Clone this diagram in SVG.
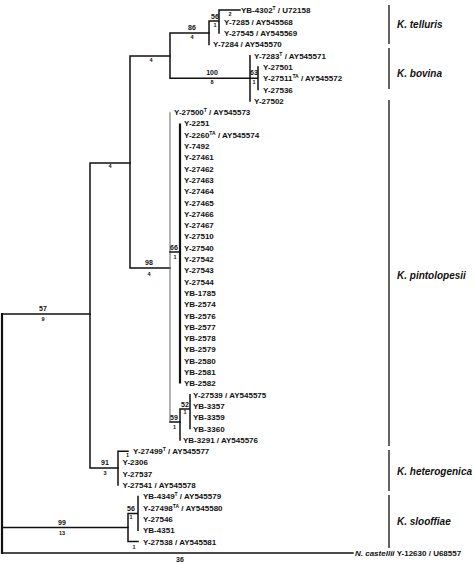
<svg xmlns="http://www.w3.org/2000/svg" width="474" height="564" viewBox="0 0 474 564">
<style>
.br{stroke:#111;stroke-width:1.5;fill:none;stroke-linecap:square}
.thick{stroke:#111;stroke-width:2.2;fill:none}
.thin{stroke:#666;stroke-width:1;fill:none}
.bar{stroke:#111;stroke-width:1.3;fill:none}
.lf{font-family:"Liberation Sans",Arial,sans-serif;font-weight:bold;font-size:8px;fill:#111}
.sup{font-size:5px}
.bs{font-family:"Liberation Sans",Arial,sans-serif;font-weight:bold;font-size:7px;fill:#111;text-anchor:middle}
.bl{font-family:"Liberation Sans",Arial,sans-serif;font-weight:bold;font-size:5.5px;fill:#111;text-anchor:middle}
.cl{font-family:"Liberation Sans",Arial,sans-serif;font-weight:bold;font-style:italic;font-size:10px;fill:#111}
</style>
<rect width="474" height="564" fill="#fff"/>
<g id="connectors">
<line class="thick" x1="2" y1="313" x2="2" y2="554"/>
<path class="br" d="M2,314H90 M2,527.5H128 M2,553H353"/>
<path class="br" d="M90,163V468 M90,163H130 M90,468H118"/>
<path class="br" d="M130,56V268 M130,56H170 M130,268H170"/>
<path class="br" d="M170,33V78.3 M170,33H209 M170,78.3H250"/>
<path class="br" d="M209,21V44.4 M209,21H219 M219,10V33.1 M219,10H240"/>
<path class="br" d="M250,55.7V100.9 M250,78.3H258 M258,67V89.6"/>
<line class="thin" x1="170" y1="112.2" x2="170" y2="422"/>
<path class="br" d="M170,252H180 M170,422H180"/>
<line class="thick" x1="180" y1="123.5" x2="180" y2="383.4"/>
<path class="br" d="M180,409V439.9 M180,409H190 M190,394.7V428.6"/>
<path class="br" d="M118,451.2V485.1 M118,451.2H128"/>
<path class="br" d="M128,513.5V541.6 M128,513.5H138 M138,496.4V530.3 M128,541.6H138"/>
<path class="bar" d="M389,5V44 M389,48V89 M389,100V446 M389,450V491 M389,495V548"/>
</g>
<g id="support">
<text class="bs" x="43" y="311">57</text><text class="bl" x="43" y="321">9</text>
<text class="bl" x="110" y="168">4</text>
<text class="bl" x="151" y="62">4</text>
<text class="bs" x="192" y="30">86</text><text class="bl" x="192" y="39">4</text>
<text class="bs" x="215" y="19">56</text><text class="bl" x="215" y="27">1</text>
<text class="bl" x="230" y="16">2</text>
<text class="bs" x="212" y="75">100</text><text class="bl" x="212" y="84">8</text>
<text class="bs" x="254" y="75">63</text><text class="bl" x="254" y="84">1</text>
<text class="bs" x="149" y="265">98</text><text class="bl" x="149" y="276">4</text>
<text class="bs" x="174" y="250">66</text><text class="bl" x="175" y="259">1</text>
<text class="bs" x="174" y="420">59</text><text class="bl" x="174.5" y="429">1</text>
<text class="bs" x="185" y="407">52</text><text class="bl" x="185" y="414">1</text>
<text class="bs" x="105" y="465">91</text><text class="bl" x="105" y="475">3</text>
<text class="bl" x="127.5" y="457">1</text>
<text class="bs" x="62" y="525">99</text><text class="bl" x="62" y="535">13</text>
<text class="bs" x="131" y="511">56</text><text class="bl" x="131" y="519">1</text>
<text class="bl" x="134" y="549">1</text>
<text class="bs" x="180" y="562">36</text>
</g>
<g id="leaves">
<g id="n-YB-4302"><text class="lf" x="241" y="13.4">YB-4302<tspan class="sup" dy="-3">T</tspan><tspan dy="3"> / U72158</tspan></text></g>
<g id="n-Y-7285"><text class="lf" x="224" y="24.7">Y-7285 / AY545568</text></g>
<g id="n-Y-27545"><text class="lf" x="224" y="36">Y-27545 / AY545569</text></g>
<g id="n-Y-7284"><text class="lf" x="213" y="47.3">Y-7284 / AY545570</text></g>
<g id="n-Y-7283"><text class="lf" x="254" y="58.6">Y-7283<tspan class="sup" dy="-3">T</tspan><tspan dy="3"> / AY545571</tspan></text></g>
<g id="n-Y-27501"><text class="lf" x="263" y="69.9">Y-27501</text></g>
<g id="n-Y-27511"><text class="lf" x="263" y="81.2">Y-27511<tspan class="sup" dy="-3">TA</tspan><tspan dy="3"> / AY545572</tspan></text></g>
<g id="n-Y-27536"><text class="lf" x="263" y="92.5">Y-27536</text></g>
<g id="n-Y-27502"><text class="lf" x="254" y="103.8">Y-27502</text></g>
<g id="n-Y-27500"><text class="lf" x="174" y="115.1">Y-27500<tspan class="sup" dy="-3">T</tspan><tspan dy="3"> / AY545573</tspan></text></g>
<g id="n-Y-2251"><text class="lf" x="184" y="126.4">Y-2251</text></g>
<g id="n-Y-2260"><text class="lf" x="184" y="137.7">Y-2260<tspan class="sup" dy="-3">TA</tspan><tspan dy="3"> / AY545574</tspan></text></g>
<g id="n-Y-7492"><text class="lf" x="184" y="149">Y-7492</text></g>
<g id="n-Y-27461"><text class="lf" x="184" y="160.3">Y-27461</text></g>
<g id="n-Y-27462"><text class="lf" x="184" y="171.6">Y-27462</text></g>
<g id="n-Y-27463"><text class="lf" x="184" y="182.9">Y-27463</text></g>
<g id="n-Y-27464"><text class="lf" x="184" y="194.2">Y-27464</text></g>
<g id="n-Y-27465"><text class="lf" x="184" y="205.5">Y-27465</text></g>
<g id="n-Y-27466"><text class="lf" x="184" y="216.8">Y-27466</text></g>
<g id="n-Y-27467"><text class="lf" x="184" y="228.1">Y-27467</text></g>
<g id="n-Y-27510"><text class="lf" x="184" y="239.4">Y-27510</text></g>
<g id="n-Y-27540"><text class="lf" x="184" y="250.7">Y-27540</text></g>
<g id="n-Y-27542"><text class="lf" x="184" y="262">Y-27542</text></g>
<g id="n-Y-27543"><text class="lf" x="184" y="273.3">Y-27543</text></g>
<g id="n-Y-27544"><text class="lf" x="184" y="284.6">Y-27544</text></g>
<g id="n-YB-1785"><text class="lf" x="184" y="295.9">YB-1785</text></g>
<g id="n-YB-2574"><text class="lf" x="184" y="307.2">YB-2574</text></g>
<g id="n-YB-2576"><text class="lf" x="184" y="318.5">YB-2576</text></g>
<g id="n-YB-2577"><text class="lf" x="184" y="329.8">YB-2577</text></g>
<g id="n-YB-2578"><text class="lf" x="184" y="341.1">YB-2578</text></g>
<g id="n-YB-2579"><text class="lf" x="184" y="352.4">YB-2579</text></g>
<g id="n-YB-2580"><text class="lf" x="184" y="363.7">YB-2580</text></g>
<g id="n-YB-2581"><text class="lf" x="184" y="375">YB-2581</text></g>
<g id="n-YB-2582"><text class="lf" x="184" y="386.3">YB-2582</text></g>
<g id="n-Y-27539"><text class="lf" x="193" y="397.6">Y-27539 / AY545575</text></g>
<g id="n-YB-3357"><text class="lf" x="193" y="408.9">YB-3357</text></g>
<g id="n-YB-3359"><text class="lf" x="193" y="420.2">YB-3359</text></g>
<g id="n-YB-3360"><text class="lf" x="193" y="431.5">YB-3360</text></g>
<g id="n-YB-3291"><text class="lf" x="183" y="442.8">YB-3291 / AY545576</text></g>
<g id="n-Y-27499"><text class="lf" x="133" y="454.1">Y-27499<tspan class="sup" dy="-3">T</tspan><tspan dy="3"> / AY545577</tspan></text></g>
<g id="n-Y-2306"><text class="lf" x="122.5" y="465.4">Y-2306</text></g>
<g id="n-Y-27537"><text class="lf" x="122.5" y="476.7">Y-27537</text></g>
<g id="n-Y-27541"><text class="lf" x="122.5" y="488">Y-27541 / AY545578</text></g>
<g id="n-YB-4349"><text class="lf" x="143" y="499.3">YB-4349<tspan class="sup" dy="-3">T</tspan><tspan dy="3"> / AY545579</tspan></text></g>
<g id="n-Y-27498"><text class="lf" x="143" y="510.6">Y-27498<tspan class="sup" dy="-3">TA</tspan><tspan dy="3"> / AY545580</tspan></text></g>
<g id="n-Y-27546"><text class="lf" x="143" y="521.9">Y-27546</text></g>
<g id="n-YB-4351"><text class="lf" x="143" y="533.2">YB-4351</text></g>
<g id="n-Y-27538"><text class="lf" x="143" y="544.5">Y-27538 / AY545581</text></g>
<g id="n-castellii"><text class="lf" x="355" y="555.8"><tspan font-style="italic">N. castellii</tspan>  Y-12630 / U68557</text></g>
</g>
<g id="clades">
<g id="c-telluris"><text class="cl" x="397" y="28">K. telluris</text></g>
<g id="c-bovina"><text class="cl" x="397" y="77">K. bovina</text></g>
<g id="c-pintolopesii"><text class="cl" x="397" y="279">K. pintolopesii</text></g>
<g id="c-heterogenica"><text class="cl" x="397" y="475">K. heterogenica</text></g>
<g id="c-slooffiae"><text class="cl" x="397" y="525">K. slooffiae</text></g>
</g>
</svg>
